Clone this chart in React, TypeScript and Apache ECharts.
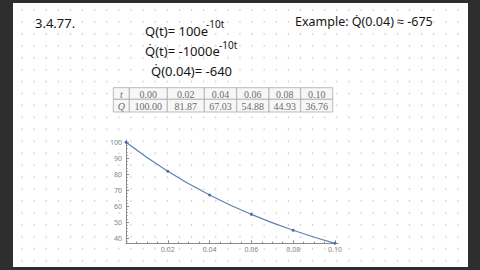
import React, { useEffect, useRef } from "react";
import * as echarts from "echarts";

// Data
const T_VALUES = [0, 0.02, 0.04, 0.06, 0.08, 0.1];
const Q_VALUES = [100, 81.87, 67.03, 54.88, 44.93, 36.76];

// Axis ticks / labels
const X_LABELS = [0.02, 0.04, 0.06, 0.08, 0.1];
const X_MAJOR = [0, 0.02, 0.04, 0.06, 0.08, 0.1];
const X_MINOR = [0.005, 0.01, 0.015, 0.025, 0.03, 0.035, 0.045, 0.05, 0.055, 0.065, 0.07, 0.075, 0.085, 0.09, 0.095];
const Y_LABELS = [40, 50, 60, 70, 80, 90, 100];
const Y_MINOR = [38, 42, 44, 46, 48, 52, 54, 56, 58, 62, 64, 66, 68, 72, 74, 76, 78, 82, 84, 86, 88, 92, 94, 96, 98];

// Handwritten notes
const TITLE = "3.4.77.";
const LINE1 = "Q(t)= 100e";
const LINE1_SUP = "-10t";
const LINE2 = "Q\u0307(t)= -1000e";
const LINE2_SUP = "-10t";
const LINE3 = "Q\u0307(0.04)= -640";
const EXAMPLE = "Example: Q\u0307(0.04) \u2248 -675";

const TABLE_COLS = [113.3, 129.3, 167.3, 204.3, 236.7, 269, 300.7, 332.7];
const TABLE_ROWS = [87.7, 99.3, 112];

export default function App() {
  const ref = useRef<HTMLDivElement>(null);
  useEffect(() => {
    if (!ref.current) return;
    const chart = echarts.init(ref.current, undefined, { renderer: "svg" });
    const hand = { fontFamily: "'Noto Sans', sans-serif", fill: "#161616" };
    const graphic: any[] = [
      { type: "text", left: 35, top: 16, style: { ...hand, text: TITLE, fontSize: 13 } },
      { type: "text", left: 145, top: 24, style: { ...hand, text: LINE1, fontSize: 13 } },
      { type: "text", left: 206, top: 19, style: { ...hand, text: LINE1_SUP, fontSize: 10 } },
      { type: "text", left: 145, top: 44, style: { ...hand, text: LINE2, fontSize: 13 } },
      { type: "text", left: 219, top: 40, style: { ...hand, text: LINE2_SUP, fontSize: 10 } },
      { type: "text", left: 151, top: 64, style: { ...hand, text: LINE3, fontSize: 13 } },
      { type: "text", left: 295, top: 15, style: { ...hand, text: EXAMPLE, fontSize: 12.5 } },
    ];
    // table
    const headerRow = ["t", ...T_VALUES.map((v) => v.toFixed(2))];
    const valueRow = ["Q", ...Q_VALUES.map((v) => v.toFixed(2))];
    [headerRow, valueRow].forEach((row, r) => {
      row.forEach((cell, c) => {
        const x0 = TABLE_COLS[c];
        const x1 = TABLE_COLS[c + 1];
        const y0 = TABLE_ROWS[r];
        const y1 = TABLE_ROWS[r + 1];
        graphic.push({
          type: "rect",
          shape: { x: x0, y: y0, width: x1 - x0, height: y1 - y0 },
          style: { fill: "#f7f7f7", stroke: "#a9a9a9", lineWidth: 0.8 },
          z: 1,
        });
        graphic.push({
          type: "text",
          x: (x0 + x1) / 2,
          y: (y0 + y1) / 2 + 0.5,
          style: {
            text: cell,
            fontFamily: "'Liberation Serif', serif",
            fontStyle: c === 0 ? "italic" : "normal",
            fontSize: 10,
            fill: "#6c6c6c",
            align: "center",
            verticalAlign: "middle",
          },
          z: 2,
        });
      });
    });

    const xMin = 0;
    const xMax = 0.10144;
    const yMin = 36.76;
    const yMax = 101.4;
    const axisColor = "#8a8a8a";
    const labelStyle = { fontSize: 7, color: "#858585", fontFamily: "'Noto Sans', sans-serif" };

    chart.setOption({
      animation: false,
      backgroundColor: "transparent",
      graphic,
      grid: { left: 126, top: 140, width: 212, height: 103.3 },
      xAxis: [
        {
          type: "value",
          min: xMin,
          max: xMax,
          position: "bottom",
          splitLine: { show: false },
          axisLine: { show: true, lineStyle: { color: axisColor, width: 1 } },
          axisTick: { show: true, inside: true, length: 3, customValues: X_MAJOR, lineStyle: { color: axisColor } },
          axisLabel: {
            show: true,
            customValues: X_LABELS,
            formatter: (v: number) => v.toFixed(2),
            margin: 3,
            ...labelStyle,
          },
        },
        {
          type: "value",
          min: xMin,
          max: xMax,
          position: "bottom",
          splitLine: { show: false },
          axisLine: { show: false },
          axisTick: { show: true, inside: true, length: 1.6, customValues: X_MINOR, lineStyle: { color: axisColor } },
          axisLabel: { show: false },
        },
      ],
      yAxis: [
        {
          type: "value",
          min: yMin,
          max: yMax,
          position: "left",
          splitLine: { show: false },
          axisLine: { show: true, lineStyle: { color: axisColor, width: 1 } },
          axisTick: { show: true, inside: true, length: 3, customValues: Y_LABELS, lineStyle: { color: axisColor } },
          axisLabel: { show: true, customValues: Y_LABELS, margin: 4, ...labelStyle },
        },
        {
          type: "value",
          min: yMin,
          max: yMax,
          position: "left",
          splitLine: { show: false },
          axisLine: { show: false },
          axisTick: { show: true, inside: true, length: 1.6, customValues: Y_MINOR, lineStyle: { color: axisColor } },
          axisLabel: { show: false },
        },
      ],
      series: [
        {
          type: "line",
          xAxisIndex: 0,
          yAxisIndex: 0,
          data: T_VALUES.map((t, i) => [t, Q_VALUES[i]]),
          smooth: 0.5,
          symbol: "circle",
          symbolSize: 3,
          showSymbol: true,
          lineStyle: { color: "#5e81b5", width: 1.2 },
          itemStyle: { color: "#4a6ea6" },
          z: 3,
        },
      ],
    });
    return () => chart.dispose();
  }, []);

  return (
    <div style={{ position: "fixed", left: 0, top: 0, width: 480, height: 270, background: "#2e2e2e", overflow: "hidden" }}>
      <div
        style={{
          position: "absolute",
          left: 12.7,
          top: 3,
          width: 455.6,
          height: 263.5,
          backgroundColor: "#ffffff",
          backgroundImage: "radial-gradient(circle, #cfcfcf 0.7px, rgba(255,255,255,0) 1.1px)",
          backgroundSize: "12.12px 11.95px",
          backgroundPosition: "2.95px 1.03px",
        }}
      />
      <div ref={ref} style={{ position: "absolute", left: 0, top: 0, width: 480, height: 270 }} />
    </div>
  );
}
